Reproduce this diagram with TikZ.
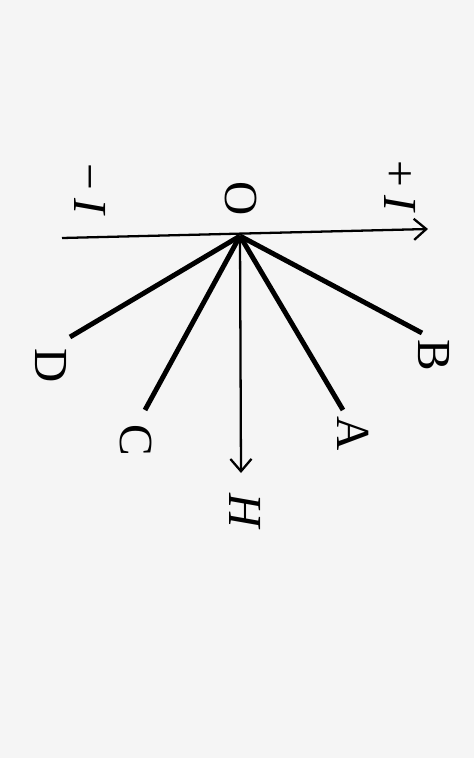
\documentclass[tikz,border=0pt]{standalone}
\usepackage{fontspec}
\setmainfont{Liberation Serif}
\usetikzlibrary{arrows.meta}

\begin{document}
\begin{tikzpicture}[x=0.02cm,y=-0.02cm,
  lbl/.style={rotate=-90,inner sep=0pt,font=\fontsize{27}{31}\selectfont},
  axis/.style={line width=1.3pt,-{Straight Barb[length=7pt,width=12pt,line width=1.3pt]}},
  ray/.style={line width=2.8pt}]
\useasboundingbox[fill=black!4] (0,0) rectangle (474,758);

% Axes
\coordinate (O) at (240,236);
\coordinate (ineg) at (62,238);
\coordinate (ipos) at (428,229);
\coordinate (hend) at (241,473);
\draw[axis] (ineg) -- (ipos);
\draw[axis] (O) -- (hend);

% Lines
\coordinate (A) at (343,410);
\coordinate (B) at (422,333);
\coordinate (C) at (145,410);
\coordinate (D) at (70,337);
\foreach \p in {A,B,C,D} {
    \draw[ray] (O) -- (\p);
}

% Labels
\node[lbl] (lblO) at (241,199) {O};
\node[lbl] (lblpos) at (400,187) {+\,\textit{I}};
\node[lbl] (lblneg) at (90,190) {−\,\textit{I}};
\node[lbl] (lblH) at (245,512) {\textit{H}};
\node[lbl] (lblA) at (353,434) {A};
\node[lbl] (lblB) at (434,355) {B};
\node[lbl] (lblC) at (136,440) {C};
\node[lbl] (lblD) at (51,366) {D};
\end{tikzpicture}
\end{document}
